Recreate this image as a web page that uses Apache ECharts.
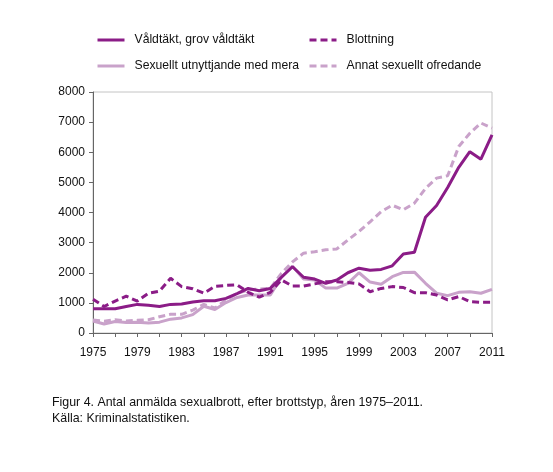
<!DOCTYPE html>
<html>
<head>
<meta charset="utf-8">
<script src="https://cdn.jsdelivr.net/npm/echarts@6.0.0/dist/echarts.min.js"></script>
<style>
  html, body { margin: 0; padding: 0; background: #fff; }
  #chart { width: 553px; height: 472px; }
</style>
</head>
<body>
<div id="chart"></div>
<script>
// Antal anmälda sexualbrott 1975-2011
const years = [];
for (let y = 1975; y <= 2011; y++) years.push(String(y));

const grovValdtakt = [808, 808, 808, 880, 950, 920, 880, 950, 960, 1030, 1070, 1070, 1150, 1310,
  1480, 1400, 1480, 1850, 2200, 1850, 1790, 1650, 1760, 2000, 2150, 2080, 2110, 2230, 2620, 2680,
  3840, 4230, 4830, 5500, 6020, 5770, 6580];

const utnyttjande = [400, 300, 380, 350, 360, 330, 360, 460, 500, 610, 890, 780, 1010, 1180,
  1260, 1260, 1260, 1850, 2220, 1790, 1760, 1490, 1490, 1650, 2000, 1690, 1620, 1870, 2010, 2020,
  1650, 1320, 1240, 1350, 1370, 1320, 1450];

const blottning = [1120, 880, 1060, 1220, 1060, 1320, 1390, 1816, 1540, 1470, 1320, 1550, 1580,
  1600, 1350, 1190, 1350, 1760, 1560, 1560, 1630, 1700, 1700, 1680, 1630, 1370, 1480, 1540, 1510,
  1340, 1340, 1260, 1100, 1210, 1040, 1020, 1020];

const annat = [430, 390, 440, 400, 420, 440, 540, 620, 620, 760, 950, 830, 1090, 1320, 1430, 1460,
  1480, 1980, 2360, 2650, 2700, 2760, 2790, 3090, 3370, 3690, 4030, 4240, 4090, 4310, 4800, 5140,
  5220, 6190, 6630, 6970, 6800];

const names = [
  "Våldtäkt, grov våldtäkt",
  "Sexuellt utnyttjande med mera",
  "Blottning",
  "Annat sexuellt ofredande",
];

const DARK = "#8b1c87";
const LIGHT = "#c9a2ca";
const FONT = "Liberation Sans, Arial, sans-serif";

function lineSeries(name, data, color, dashed, z) {
  return {
    name,
    type: "line",
    data,
    symbol: "none",
    z,
    lineStyle: {
      color,
      width: 3,
      type: dashed ? [7, 4] : "solid",
    },
    itemStyle: { color },
  };
}

const legendBase = {
  orient: "vertical",
  padding: 0,
  itemWidth: 27,
  itemHeight: 12,
  itemGap: 14,
  itemStyle: { opacity: 0 },
  lineStyle: { width: 3 },
  textStyle: { fontFamily: FONT, fontSize: 12.2, color: "#111", padding: [0, 0, 0, 5] },
  selectedMode: false,
};

const chart = echarts.init(document.getElementById("chart"), null, { renderer: "canvas" });

chart.setOption({
  animation: false,
  textStyle: { fontFamily: FONT },
  grid: {
    left: 93,
    right: 61,
    top: 92,
    bottom: 139,
    show: true,
    borderColor: "#c4c4c4",
    borderWidth: 1,
  },
  legend: [
    Object.assign({ left: 96, top: 34, data: [names[0], names[1]] }, legendBase),
    Object.assign({ left: 308, top: 34, data: [names[2], names[3]] }, legendBase),
  ],
  xAxis: {
    type: "category",
    data: years,
    boundaryGap: false,
    axisLine: { lineStyle: { color: "#666", width: 1 } },
    axisTick: { show: true, length: 4, interval: 1, lineStyle: { color: "#666" } },
    axisLabel: { interval: 3, color: "#111", fontSize: 12, margin: 14 },
    splitLine: { show: false },
  },
  yAxis: {
    type: "value",
    min: 0,
    max: 8000,
    interval: 1000,
    axisLine: { show: true, lineStyle: { color: "#666", width: 1 } },
    axisTick: { show: true, length: 4, lineStyle: { color: "#666" } },
    axisLabel: { color: "#111", fontSize: 12, margin: 8, formatter: (v) => String(v) },
    splitLine: { show: false },
  },
  series: [
    lineSeries(names[1], utnyttjande, LIGHT, false, 2),
    lineSeries(names[3], annat, LIGHT, true, 3),
    lineSeries(names[2], blottning, DARK, true, 4),
    lineSeries(names[0], grovValdtakt, DARK, false, 5),
  ],
  graphic: [
    {
      type: "text",
      left: 52,
      top: 397,
      style: {
        text: "Figur 4. Antal anmälda sexualbrott, efter brottstyp, åren 1975–2011.",
        font: "12.4px " + FONT,
        fill: "#111",
      },
    },
    {
      type: "text",
      left: 52,
      top: 413,
      style: {
        text: "Källa: Kriminalstatistiken.",
        font: "12.4px " + FONT,
        fill: "#111",
      },
    },
  ],
});
</script>
</body>
</html>
